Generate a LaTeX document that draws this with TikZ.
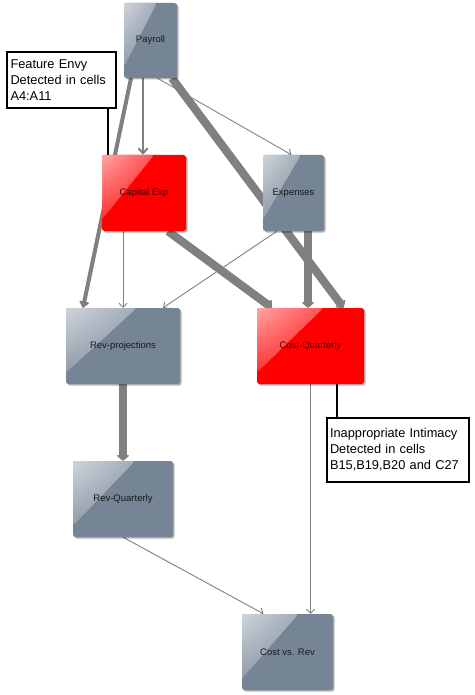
\documentclass[tikz,border=0pt]{standalone}
\usepackage{fontspec}
\setmainfont{Liberation Sans}
\usetikzlibrary{arrows.meta,shadows,shadings,backgrounds,calc}
\definecolor{nodegray}{RGB}{118,133,150}
\definecolor{nodered}{RGB}{255,0,0}
\definecolor{edgegray}{RGB}{128,128,128}
\definecolor{redtext}{RGB}{70,0,0}
\definecolor{graytext}{RGB}{20,25,30}
\tikzset{
  gbox/.style={rounded corners=2.5pt, inner sep=0pt, fill=#1,
    font=\fontsize{9.5}{11}\selectfont,
    drop shadow={shadow xshift=1.5pt, shadow yshift=-1.5pt, opacity=0.3, fill=black},
    path picture={
      \shade[upper left=white!65!#1, upper right=white!12!#1, lower left=white!12!#1, lower right=#1]
        (path picture bounding box.north west)
        -- ($(path picture bounding box.north west)!0.62!(path picture bounding box.north east)$)
        -- ($(path picture bounding box.north west)!0.85!(path picture bounding box.south west)$)
        -- cycle;
    }},
  graybox/.style={gbox=nodegray, text=graytext},
  redbox/.style={gbox=nodered, text=redtext},
  ann/.style={draw=black, line width=1.3pt, fill=white, align=left,
    font=\fontsize{12.8}{16}\selectfont, inner ysep=0pt},
  annline/.style={draw=black, line width=1.3pt},
  thinedge/.style={draw=edgegray, line width=0.9pt, -{Straight Barb[length=4pt,width=8pt]}},
  medge/.style={draw=edgegray, line width=2pt, -{Straight Barb[length=5pt,width=9pt]}},
  mthickedge/.style={draw=edgegray, line width=4pt, -{Triangle[round,length=7pt,width=11pt]}},
  thickedge/.style={draw=edgegray, line width=8.2pt, -{Triangle[round,length=6pt,width=14pt]}},
}
\begin{document}
\begin{tikzpicture}[x=1pt,y=-1pt]
\useasboundingbox (0,0) rectangle (474,695);
\begin{scope}[on background layer]
  \fill[white] (0,0) rectangle (474,695);
\end{scope}

\node[graybox, minimum width=53pt, minimum height=75pt] (pay) at (150.5,40.5) {Payroll};
\node[redbox, minimum width=84pt, minimum height=76pt] (cap) at (144,193) {Capital Exp};
\node[graybox, minimum width=61pt, minimum height=76pt] (exp) at (293.5,193) {Expenses};
\node[graybox, minimum width=114pt, minimum height=76pt] (rp) at (123,346) {Rev-projections};
\node[redbox, minimum width=107pt, minimum height=76pt] (cq) at (310.5,346) {Cost-Quarterly};
\node[graybox, minimum width=100pt, minimum height=76pt] (rq) at (123,499) {Rev-Quarterly};
\node[graybox, minimum width=91pt, minimum height=76pt] (cvr) at (287.5,652) {Cost vs. Rev};

\begin{scope}[on background layer]
  \draw[medge] ([xshift=-7.5pt]pay.south) -- ([xshift=-1pt]cap.north);
  \draw[mthickedge] ([xshift=-19.5pt]pay.south) -- ([xshift=-40pt]rp.north);
  \draw[thinedge] ([xshift=7pt]pay.south) -- ([xshift=-2pt]exp.north);
  \draw[thickedge] ([xshift=21.5pt]pay.south) -- ([xshift=33pt]cq.north);
  \draw[thinedge] ([xshift=-21pt]cap.south) -- ([xshift=0pt]rp.north);
  \draw[thickedge] ([xshift=24pt]cap.south) -- ([xshift=-38.5pt]cq.north);
  \draw[thinedge] ([xshift=-16.5pt]exp.south) -- ([xshift=40pt]rp.north);
  \draw[thickedge] ([xshift=14.5pt]exp.south) -- ([xshift=-2.5pt]cq.north);
  \draw[thickedge] (rp.south) -- (rq.north);
  \draw[thinedge] (rq.south) -- ([xshift=-24pt]cvr.north);
  \draw[thinedge] ([xshift=0pt]cq.south) -- ([xshift=23pt]cvr.north);
\end{scope}

\node[ann, text width=102pt, inner xsep=3.5pt, minimum height=56pt] (fe) at (61.5,80)
  {Feature Envy\\Detected in cells\\A4:A11};
\node[ann, text width=136pt, inner xsep=3pt, minimum height=64pt] (ii) at (398,450)
  {Inappropriate Intimacy\\Detected in cells\\B15,B19,B20 and C27};

\coordinate (feA) at ([xshift=46.5pt]fe.south);
\draw[annline] (feA) -- (feA |- cap.north);
\coordinate (iiA) at ([xshift=-61pt]ii.north);
\draw[annline] (iiA) -- (iiA |- cq.south);
\end{tikzpicture}
\end{document}
